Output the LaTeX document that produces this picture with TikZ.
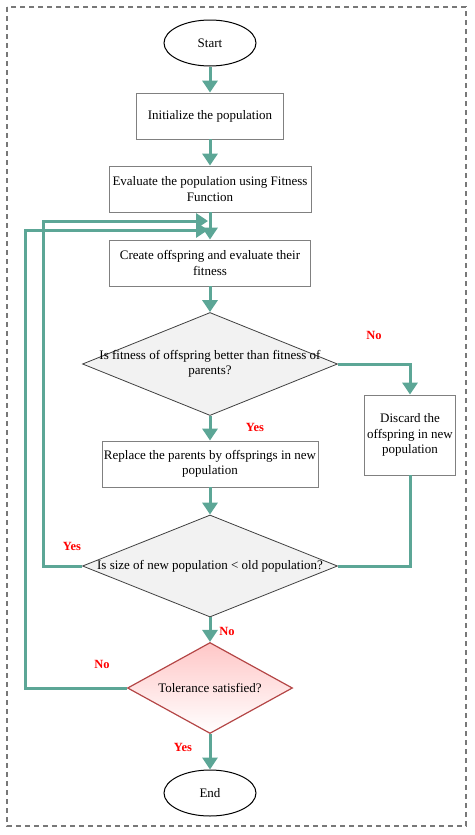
\documentclass[tikz,border=0pt]{standalone}
\usepackage{fontspec}
\setmainfont{Liberation Serif}
\usetikzlibrary{positioning,shapes.geometric,arrows.meta}
\definecolor{flowteal}{RGB}{92,166,150}
\definecolor{tolred}{RGB}{180,70,70}
\definecolor{framegray}{RGB}{120,120,120}

\begin{document}
\begin{tikzpicture}[x=1pt,y=-1pt,
	every node/.style={font=\fontsize{13}{15.5}\selectfont},
	terminal/.style={draw=black,line width=1pt,ellipse,minimum width=92pt,minimum height=46pt},
	process/.style={draw=gray,fill=white,line width=0.8pt,align=center,minimum height=46pt,inner sep=2pt},
	decision/.style={draw=darkgray,fill=gray!10,diamond,line width=0.8pt,inner sep=0pt},
	flow/.style={draw=flowteal,line width=3pt,-{Triangle[length=12pt,width=15pt]}},
	link/.style={draw=flowteal,line width=3pt},
	answer/.style={text=red,font=\fontsize{12.5}{14}\selectfont\bfseries}]
	%% page and frame
	\useasboundingbox (0,0) rectangle (474,835);
	\draw[framegray,line width=1.3pt,dash pattern=on 5pt off 4pt] (7,7) rectangle (466,826);
	
	%% the steps
	\node[terminal] (start) at (210,43) {Start};
	\node[process,minimum width=147pt] (init) at (210,116) {Initialize the population};
	\node[process,minimum width=202pt] (eval) at (210,189) {Evaluate the population using Fitness\\Function};
	\node[process,minimum width=201pt] (create) at (210,263) {Create offspring and evaluate their\\fitness};
	
	\node[decision,minimum width=255pt,minimum height=103pt] (fit) at (210,364) {};
	\node[align=center] (fittext) at (fit) {Is fitness of offspring better than fitness of\\parents?};
	\node[process,minimum width=91pt,minimum height=80pt] (discard) at (410,435) {Discard the\\offspring in new\\population};
	\node[process,minimum width=215pt] (replace) at (210,464) {Replace the parents by offsprings in new\\population};
	
	\node[decision,minimum width=255pt,minimum height=102pt] (size) at (210,566) {};
	\node (sizetext) at (size) {Is size of new population < old population?};
	
	\node[diamond,draw=tolred,line width=1.2pt,top color=red!22,bottom color=white,
	      minimum width=165pt,minimum height=91pt,inner sep=0pt] (tol) at (210,688) {};
	\node (toltext) at (tol) {Tolerance satisfied?};
	\node[terminal] (end) at (210,793) {End};
	
	% loop entries
	\coordinate (loopA) at (208,221);
	\coordinate (loopB) at (208,230);
	
	%% connectors
	\draw[flow] (start) -- (init);
	\draw[flow] (init) -- (eval);
	\draw[flow] (eval) -- (create);
	\draw[flow] (create) -- (fit);
	\draw[flow] (fit.east) -| (discard);
	\draw[flow] (fit) -- (replace);
	\draw[flow] (replace) -- (size);
	\draw[link] (discard) |- (size.east);
	\draw[flow] (size.west) -- ++(-39,0) |- (loopA);
	\draw[flow] (size) -- (tol);
	\draw[flow] (tol.west) -- ++(-101,0) |- (loopB);
	\draw[flow] (tol) -- (end);
	
	%% answers
	\node[answer] (noFit) at (374,335) {No};
	\node[answer] (yesFit) at (255,427) {Yes};
	\node[answer] (yesSize) at (72,546) {Yes};
	\node[answer] (noSize) at (227,631) {No};
	\node[answer] (noTol) at (102,664) {No};
	\node[answer] (yesTol) at (183,747) {Yes};
\end{tikzpicture}
\end{document}
